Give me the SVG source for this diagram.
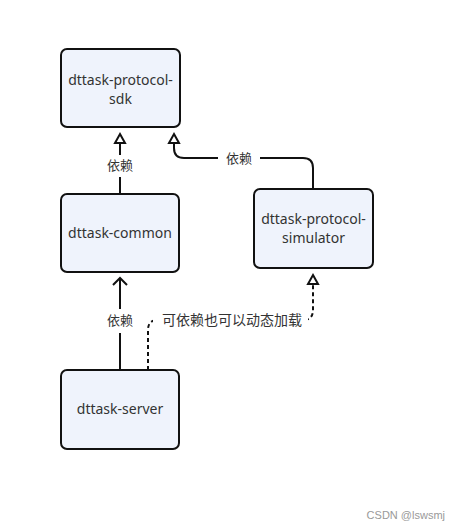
<svg xmlns="http://www.w3.org/2000/svg" width="462" height="531" viewBox="0 0 462 531">
<defs>
<style>
.node rect{fill:#eff3fc;stroke:#111;stroke-width:2}
.node text{font-family:"Noto Sans","Open Sans",sans-serif;font-size:14px;fill:#333;text-anchor:middle}
.lbl{font-family:"Noto Sans CJK SC",sans-serif;font-size:13px;fill:#333;text-anchor:middle}
.edge{fill:none;stroke:#111;stroke-width:2}
.dash{stroke-dasharray:4 3}
.head{fill:#fff;stroke:#111;stroke-width:2;stroke-linejoin:miter}
</style>
</defs>
<rect width="462" height="531" fill="#fff"/>
<g id="connectors">
<path class="edge" d="M120,194 V143"/>
<path class="head" d="M120,134 L125,143 L115,143 Z"/>
<path class="edge" d="M313,189 V168 Q313,158 303,158 H184 Q174,158 174,148 V143"/>
<path class="head" d="M174,134 L179,143 L169,143 Z"/>
<path class="edge" d="M120,370 V278 M113,285 L120,278 L127,285"/>
<path class="edge dash" d="M148,370 V330 Q148,320 158,320 H303 Q313,320 313,310 V284"/>
<path class="head" d="M313,275 L318,284 L308,284 Z"/>
<rect x="106" y="155" width="28" height="22" fill="#fff"/>
<text class="lbl" x="120" y="170">依赖</text>
<rect x="218" y="148" width="42" height="20" fill="#fff"/>
<text class="lbl" x="239" y="163">依赖</text>
<rect x="104" y="309" width="32" height="24" fill="#fff"/>
<text class="lbl" x="120" y="325">依赖</text>
<rect x="153" y="309" width="155" height="22" fill="#fff"/>
<text class="lbl" x="232" y="325" style="font-size:14px">可依赖也可以动态加载</text>
</g>
<g id="sdk" class="node">
<rect x="61" y="49" width="119" height="78" rx="6"/>
<text x="120.5" y="85">dttask-protocol-</text>
<text x="120.5" y="104">sdk</text>
</g>
<g id="common" class="node">
<rect x="61" y="194" width="118" height="78" rx="6"/>
<text x="120" y="238">dttask-common</text>
</g>
<g id="simulator" class="node">
<rect x="254" y="189" width="119" height="79" rx="6"/>
<text x="313.5" y="224">dttask-protocol-</text>
<text x="313.5" y="243">simulator</text>
</g>
<g id="server" class="node">
<rect x="61" y="370" width="118" height="79" rx="6"/>
<text x="120" y="414">dttask-server</text>
</g>
<text x="445" y="519" font-family="Liberation Sans,sans-serif" font-size="11" fill="#999" text-anchor="end">CSDN @lswsmj</text>
</svg>
